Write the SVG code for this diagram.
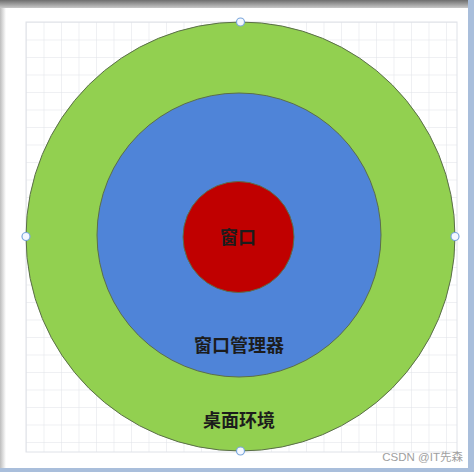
<svg xmlns="http://www.w3.org/2000/svg" width="474" height="472" viewBox="0 0 474 472">
<defs>
<style>
.grid{stroke:#dfe2e8;stroke-width:1;fill:none}
.ring{stroke:#5b6e4a;stroke-width:1}
.lbl{font-family:"Noto Sans CJK SC","Liberation Sans",sans-serif;font-weight:bold;font-size:18px;fill:#1c1c1c;text-anchor:middle}
.handle{fill:#f4f8ff;stroke:#7aa6dc;stroke-width:1.2}
</style>
<linearGradient id="topbar" x1="0" y1="0" x2="0" y2="1">
<stop offset="0" stop-color="#6e6e6e"/>
<stop offset="1" stop-color="#c8c8c8"/>
</linearGradient>
<linearGradient id="leftbar" x1="0" y1="0" x2="1" y2="0">
<stop offset="0" stop-color="#bdbdbd"/>
<stop offset="1" stop-color="#ffffff"/>
</linearGradient>
<pattern id="gp" x="26" y="22" width="17.5" height="17.5" patternUnits="userSpaceOnUse">
<path d="M0 0H17.5M0 0V17.5" class="grid"/>
</pattern>
</defs>
<rect x="0" y="0" width="474" height="472" fill="#ffffff"/>
<rect x="0" y="0" width="6" height="472" fill="url(#leftbar)"/>
<rect x="0" y="0" width="474" height="8" fill="url(#topbar)"/>
<rect x="468" y="0" width="6" height="472" fill="#a9bedb"/>
<rect x="0" y="468" width="474" height="4" fill="#a9bedb"/>
<g id="grid">
<rect x="26" y="22" width="431" height="430" fill="url(#gp)" stroke="#dfe2e8"/>
</g>
<g id="desktop">
<circle cx="240.5" cy="236.5" r="214.5" fill="#92d050" class="ring"/>
<text x="239" y="427" class="lbl">桌面环境</text>
</g>
<g id="wm">
<circle cx="239" cy="235" r="142" fill="#4f84d8" class="ring"/>
<text x="239" y="352" class="lbl">窗口管理器</text>
</g>
<g id="window">
<circle cx="238.5" cy="237" r="55.5" fill="#c00000" class="ring"/>
<text x="238" y="244" class="lbl">窗口</text>
</g>
<g id="handles">
<circle cx="240.5" cy="22" r="4" class="handle"/>
<circle cx="240.5" cy="451" r="4" class="handle"/>
<circle cx="26" cy="236.5" r="4" class="handle"/>
<circle cx="455" cy="236.5" r="4" class="handle"/>
</g>
<text x="463" y="461" font-family="Liberation Sans, Noto Sans CJK SC, sans-serif" font-size="11.5" fill="#a0a0a0" text-anchor="end">CSDN @IT先森</text>
</svg>
